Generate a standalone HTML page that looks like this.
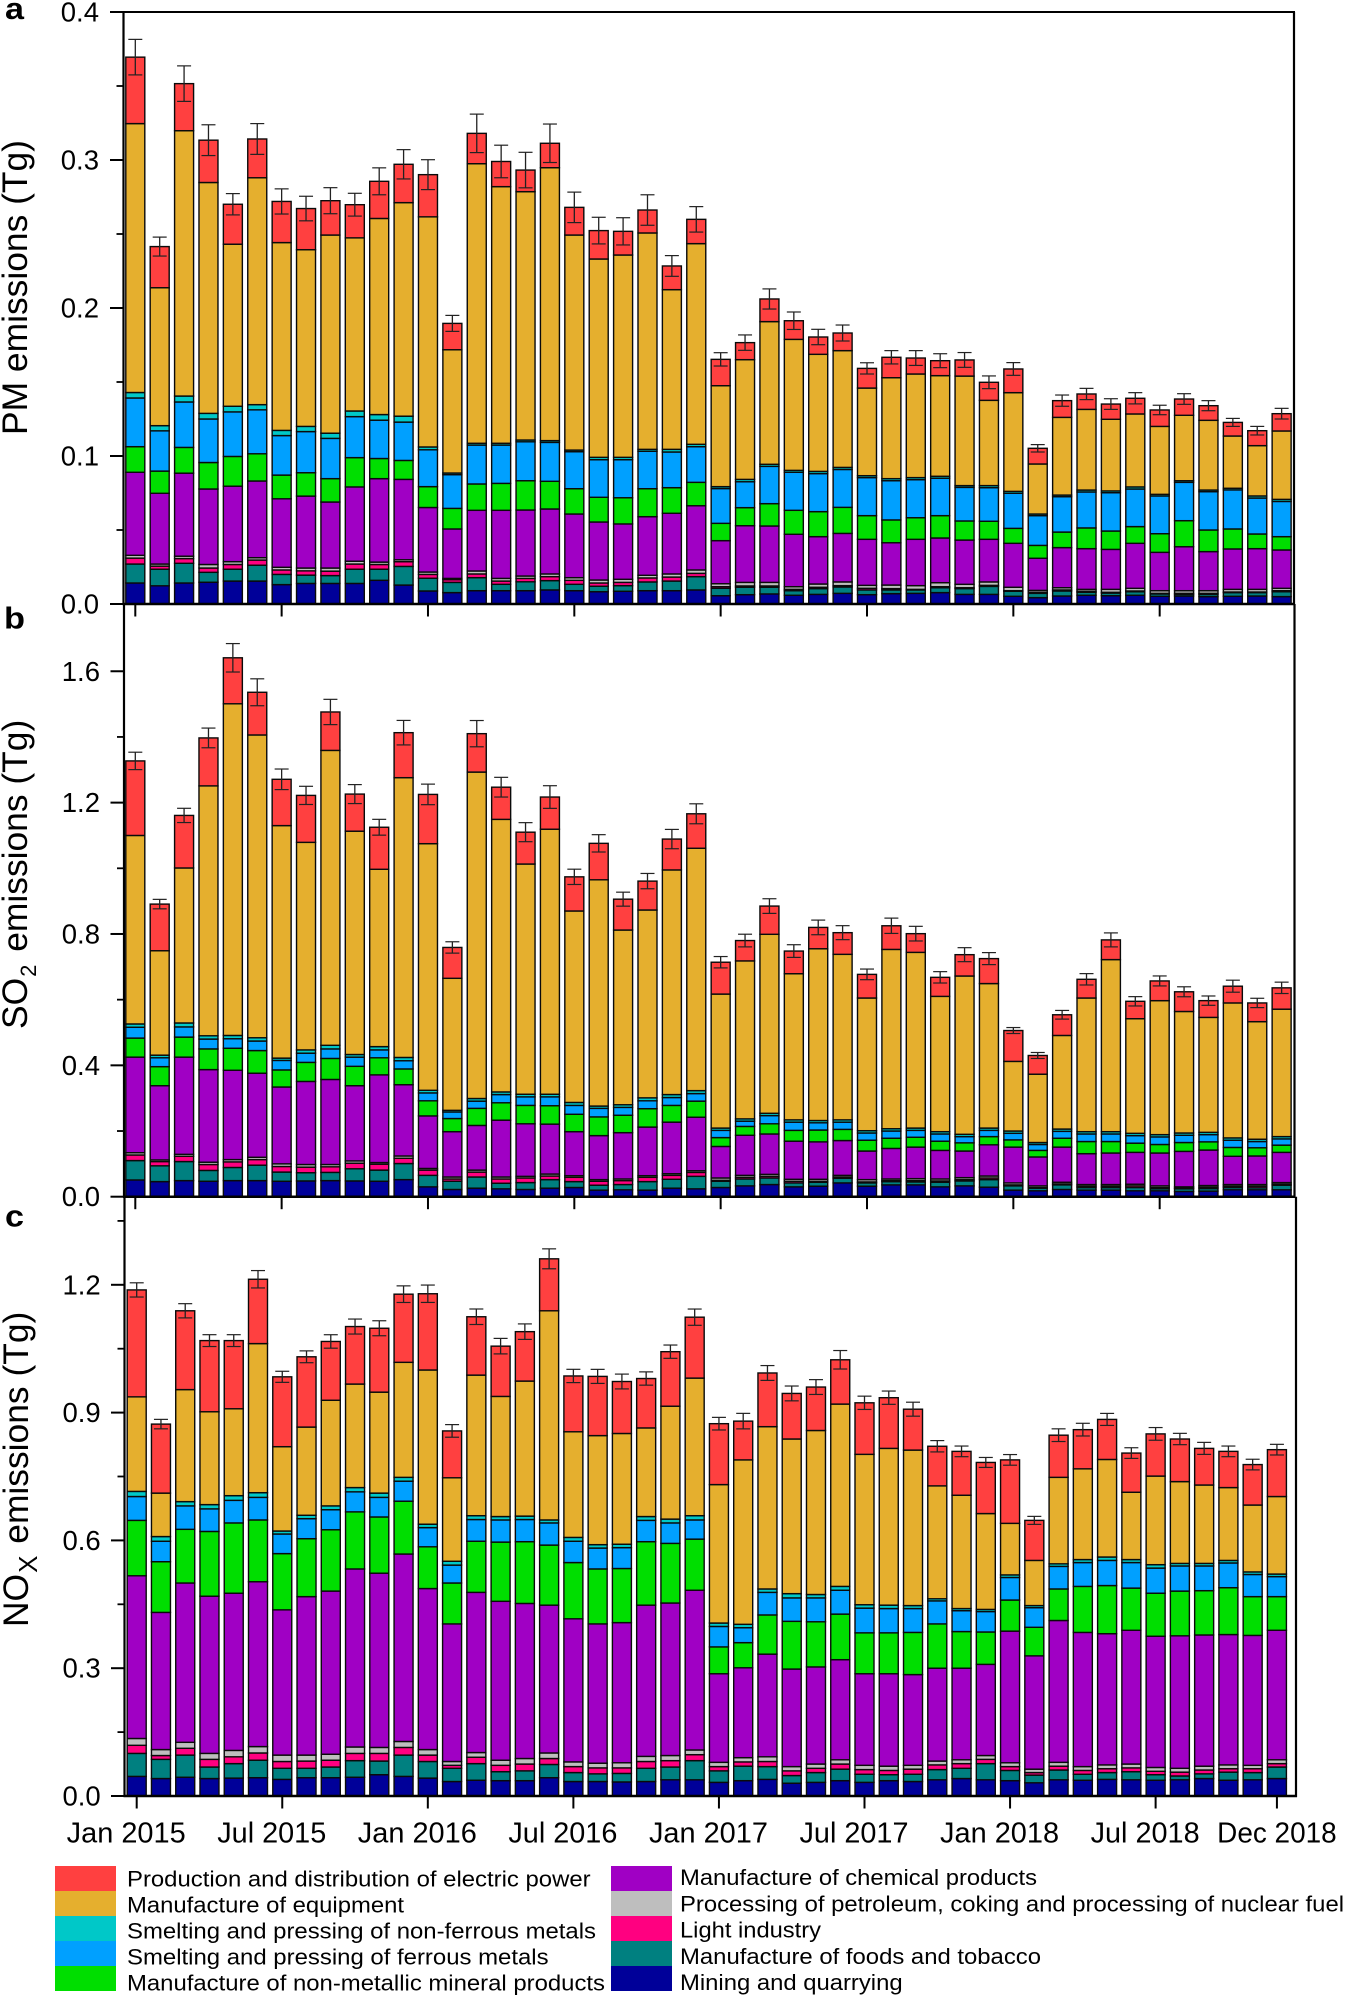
<!DOCTYPE html>
<html lang="en">
<head>
<meta charset="utf-8">
<title>Monthly PM, SO2 and NOx emissions by sector</title>
<style>
html,body{margin:0;padding:0;background:#fff;}
svg{display:block;font-family:"Liberation Sans",Arial,sans-serif;fill:#000;}
</style>
</head>
<body>
<svg id="chart" xmlns="http://www.w3.org/2000/svg" width="1345" height="1997" viewBox="0 0 1345 1997">
<rect x="0" y="0" width="1345" height="1997" fill="#fff"/>
<text x="5" y="19" font-size="31" font-weight="bold" textLength="19" lengthAdjust="spacingAndGlyphs">a</text>
<text x="4" y="628.5" font-size="31" font-weight="bold" textLength="21" lengthAdjust="spacingAndGlyphs">b</text>
<text x="5" y="1226.5" font-size="31" font-weight="bold" textLength="19" lengthAdjust="spacingAndGlyphs">c</text>
<text transform="translate(27,435) rotate(-90)" font-size="35.4">PM emissions (Tg)</text>
<text transform="translate(27,1029) rotate(-90)" font-size="35.4">SO<tspan font-size="22" dy="9" dx="1">2</tspan><tspan dy="-9" dx="3"> emissions (Tg)</tspan></text>
<text transform="translate(28,1627) rotate(-90)" font-size="35.4">NO<tspan font-size="26" dy="9" dx="1">X</tspan><tspan dy="-9" dx="2"> emissions (Tg)</tspan></text>

<g>
<g><rect x="55" y="1866" width="61" height="25" fill="#FF4040"/><text x="127" y="1886.7" font-size="22.5" textLength="463.6" lengthAdjust="spacingAndGlyphs">Production and distribution of electric power</text></g>
<g><rect x="55" y="1891" width="61" height="25" fill="#E5AF2E"/><text x="127" y="1912.7" font-size="22.5" textLength="277" lengthAdjust="spacingAndGlyphs">Manufacture of equipment</text></g>
<g><rect x="55" y="1916" width="61" height="25" fill="#00C8C8"/><text x="127" y="1938.7" font-size="22.5" textLength="469" lengthAdjust="spacingAndGlyphs">Smelting and pressing of non-ferrous metals</text></g>
<g><rect x="55" y="1941" width="61" height="25" fill="#00A0FF"/><text x="127" y="1964.7" font-size="22.5" textLength="421.6" lengthAdjust="spacingAndGlyphs">Smelting and pressing of ferrous metals</text></g>
<g><rect x="55" y="1966" width="61" height="25" fill="#00DE00"/><text x="127" y="1990.7" font-size="22.5" textLength="478" lengthAdjust="spacingAndGlyphs">Manufacture of non-metallic mineral products</text></g>
<g><rect x="611" y="1866" width="61" height="25" fill="#A000C4"/><text x="680" y="1885" font-size="22.5" textLength="357" lengthAdjust="spacingAndGlyphs">Manufacture of chemical products</text></g>
<g><rect x="611" y="1891" width="61" height="25" fill="#BEBEBE"/><text x="680" y="1911.7" font-size="22.5" textLength="664" lengthAdjust="spacingAndGlyphs">Processing of petroleum, coking and processing of nuclear fuel</text></g>
<g><rect x="611" y="1916" width="61" height="25" fill="#FF0080"/><text x="680" y="1937.7" font-size="22.5" textLength="141" lengthAdjust="spacingAndGlyphs">Light industry</text></g>
<g><rect x="611" y="1941" width="61" height="25" fill="#008080"/><text x="680" y="1964" font-size="22.5" textLength="361" lengthAdjust="spacingAndGlyphs">Manufacture of foods and tobacco</text></g>
<g><rect x="611" y="1966" width="61" height="25" fill="#000099"/><text x="680" y="1990" font-size="22.5" textLength="222.6" lengthAdjust="spacingAndGlyphs">Mining and quarrying</text></g>
</g>
</svg>
<script>
const months=['Jan 2015','Feb 2015','Mar 2015','Apr 2015','May 2015','Jun 2015','Jul 2015','Aug 2015','Sep 2015','Oct 2015','Nov 2015','Dec 2015','Jan 2016','Feb 2016','Mar 2016','Apr 2016','May 2016','Jun 2016','Jul 2016','Aug 2016','Sep 2016','Oct 2016','Nov 2016','Dec 2016','Jan 2017','Feb 2017','Mar 2017','Apr 2017','May 2017','Jun 2017','Jul 2017','Aug 2017','Sep 2017','Oct 2017','Nov 2017','Dec 2017','Jan 2018','Feb 2018','Mar 2018','Apr 2018','May 2018','Jun 2018','Jul 2018','Aug 2018','Sep 2018','Oct 2018','Nov 2018','Dec 2018'];
const xTickLabels=['Jan 2015','Jul 2015','Jan 2016','Jul 2016','Jan 2017','Jul 2017','Jan 2018','Jul 2018','Dec 2018'];

const pmNavy=[.0142,.0123,.0142,.0147,.0155,.0155,.0131,.0139,.0139,.0139,.016,.0128,.0088,.0077,.009,.009,.009,.0095,.009,.0083,.0086,.009,.009,.0095,.0056,.0063,.0068,.0059,.0065,.0072,.0063,.007,.0072,.0077,.0065,.0065,.0052,.0043,.0054,.0059,.0056,.0059,.0052,.0054,.005,.0052,.0054,.005];
const pmTeal=[.0128,.0112,.0133,.0067,.008,.0107,.0069,.0056,.0053,.0096,.0075,.0126,.0086,.0069,.0088,.0043,.006,.0063,.0043,.0037,.0038,.0059,.0065,.009,.005,.005,.0045,.0031,.0039,.0043,.0032,.0025,.0023,.0033,.0039,.0054,.0034,.0029,.0034,.002,.0018,.0024,.0016,.0011,.0015,.0025,.0023,.0033];
const pmPink=[.004,.0021,.0032,.0029,.0032,.0035,.003,.0029,.003,.0035,.0032,.0032,.0026,.0019,.0025,.0022,.0023,.0027,.0027,.0022,.0022,.0027,.0027,.0022,.0011,.0009,.0009,.0009,.0009,.0009,.0011,.0009,.0004,.0007,.0006,.0007,.0004,.0007,.0007,.0007,.0005,.0005,.0004,.0007,.0007,.0004,.0004,.0007];
const pmGrey=[.0019,.0014,.0016,.0024,.0019,.0016,.0018,.0019,.0021,.0019,.0016,.0013,.0016,.0008,.002,.0018,.0016,.0018,.0018,.002,.0021,.0018,.0021,.0023,.002,.0024,.0024,.0018,.0022,.0025,.002,.0024,.0025,.0027,.0023,.0023,.0023,.0013,.0015,.0013,.002,.0018,.0018,.0018,.0018,.0018,.0018,.0016];
const pmPurple=[.0561,.0478,.0561,.051,.051,.0518,.0463,.0486,.0446,.0502,.0564,.0543,.0436,.0334,.041,.046,.0446,.0439,.043,.0392,.0374,.0396,.041,.0434,.0291,.0383,.0381,.0354,.032,.0328,.0311,.0286,.0313,.0302,.0299,.0288,.0297,.0217,.0271,.0275,.027,.0304,.0259,.0297,.0264,.0273,.0275,.0259];
const pmGreen=[.0173,.015,.0174,.0179,.0201,.0184,.016,.0158,.0158,.0198,.0136,.0128,.0141,.0139,.0178,.0182,.0198,.0187,.0171,.0167,.0177,.0189,.0173,.0158,.0117,.0122,.0151,.0162,.0169,.0176,.016,.0154,.0146,.0151,.0129,.0122,.0101,.0087,.0105,.014,.0124,.0113,.0126,.0176,.0146,.0135,.0099,.009];
const pmBlue=[.0329,.0272,.0307,.0294,.0301,.0297,.0267,.0278,.0272,.0277,.0259,.0259,.0249,.0228,.0263,.0259,.0263,.0263,.025,.0254,.0257,.0253,.0241,.0241,.0235,.0175,.0252,.0257,.0257,.0256,.0257,.0265,.0257,.0253,.0227,.0227,.0237,.0201,.0239,.0243,.0259,.0254,.0255,.0259,.0259,.0264,.0243,.0238];
const pmCyan=[.0037,.0035,.004,.0038,.0038,.0035,.0035,.0035,.0035,.0038,.0038,.004,.0019,.0011,.0012,.0012,.0012,.0012,.0011,.0016,.0016,.0013,.0018,.0016,.0013,.0016,.0014,.0013,.0015,.0014,.0013,.0014,.0014,.0013,.0012,.0014,.0013,.0011,.0011,.0013,.0012,.0014,.0011,.0011,.0011,.0011,.0014,.0014];
const pmEquip=[.1817,.0932,.1793,.156,.1095,.1533,.1269,.1194,.1339,.117,.1325,.1443,.1555,.0833,.1889,.1734,.1678,.1844,.1453,.134,.1367,.1462,.1079,.1356,.0682,.0809,.0964,.0885,.0791,.0789,.0592,.0682,.07,.068,.074,.0576,.0667,.0338,.0525,.0545,.0484,.0493,.0459,.0442,.0471,.0353,.034,.0462];
const pmRed=[.0449,.0278,.0318,.0286,.027,.0262,.0278,.0278,.0232,.0224,.0251,.0259,.0285,.0178,.0205,.017,.0146,.0165,.0187,.0192,.016,.0155,.016,.0164,.0178,.0115,.0153,.0126,.0117,.0119,.0133,.0138,.0108,.0101,.0109,.0122,.016,.0106,.0113,.0104,.0103,.0106,.0111,.011,.0099,.0092,.0101,.0117];
const pmError=[.012,.0064,.012,.0104,.0072,.0104,.0085,.0083,.0088,.0077,.0091,.0099,.0101,.0054,.013,.011,.012,.013,.0103,.009,.0092,.0103,.007,.0086,.0045,.0052,.0068,.0059,.0052,.0054,.0038,.0045,.005,.0047,.005,.0043,.0043,.0025,.0038,.0038,.0036,.0038,.0032,.0036,.0034,.0027,.0029,.0036];
const pmTickLabels=['0.0','0.1','0.2','0.3','0.4'];
const pmMinorTicks=[.05,.15,.25,.35];

const so2Navy=[.051,.046,.049,.047,.049,.049,.047,.048,.049,.048,.047,.052,.030,.022,.026,.024,.022,.026,.028,.020,.021,.020,.026,.024,.028,.033,.037,.030,.032,.042,.032,.036,.036,.030,.033,.029,.020,.018,.022,.020,.020,.018,.018,.016,.017,.021,.021,.021];
const so2Teal=[.059,.048,.058,.033,.040,.047,.028,.025,.025,.037,.034,.049,.035,.025,.034,.017,.021,.026,.018,.015,.016,.026,.027,.038,.019,.021,.020,.012,.012,.014,.010,.010,.009,.014,.015,.023,.013,.008,.014,.008,.008,.010,.006,.008,.008,.007,.006,.014];
const so2Pink=[.017,.013,.016,.018,.017,.017,.017,.017,.017,.017,.018,.016,.016,.007,.015,.013,.014,.011,.013,.012,.012,.013,.012,.012,.003,.005,.005,.005,.003,.004,.003,.003,.004,.004,.004,.005,.003,.002,.003,.004,.004,.005,.004,.002,.004,.004,.005,.003];
const so2Grey=[.007,.005,.006,.007,.007,.007,.008,.008,.007,.007,.005,.007,.005,.006,.006,.006,.005,.006,.005,.005,.005,.005,.005,.005,.007,.006,.006,.006,.006,.005,.007,.005,.006,.006,.006,.006,.006,.005,.005,.005,.005,.005,.005,.004,.005,.005,.005,.005];
const so2Purple=[.291,.226,.296,.282,.272,.256,.234,.253,.259,.229,.267,.217,.160,.138,.136,.173,.160,.152,.134,.134,.141,.148,.157,.163,.096,.122,.123,.116,.114,.106,.087,.093,.096,.087,.081,.095,.109,.088,.107,.094,.096,.097,.100,.108,.108,.086,.087,.092];
const so2Green=[.058,.058,.061,.063,.067,.069,.052,.058,.064,.059,.052,.048,.046,.040,.052,.053,.056,.056,.053,.057,.053,.056,.051,.049,.027,.027,.031,.033,.036,.034,.033,.031,.030,.028,.025,.025,.022,.020,.027,.037,.035,.028,.026,.027,.025,.027,.025,.022];
const so2Blue=[.033,.027,.031,.030,.029,.029,.029,.028,.029,.028,.024,.025,.024,.020,.022,.025,.026,.027,.027,.026,.024,.024,.024,.023,.022,.016,.025,.025,.022,.022,.022,.022,.021,.022,.019,.019,.020,.018,.021,.023,.023,.023,.023,.022,.022,.022,.019,.019];
const so2Cyan=[.010,.008,.012,.010,.010,.010,.007,.010,.011,.008,.010,.010,.008,.005,.008,.008,.008,.008,.009,.007,.008,.009,.009,.009,.007,.007,.007,.007,.007,.007,.007,.007,.007,.007,.007,.007,.007,.006,.007,.007,.007,.007,.007,.007,.007,.007,.007,.007];
const so2Equip=[.574,.318,.472,.761,1.010,.922,.708,.632,.898,.680,.540,.852,.751,.402,.994,.830,.701,.807,.583,.689,.532,.572,.684,.738,.408,.481,.545,.445,.523,.504,.404,.546,.535,.412,.482,.440,.212,.208,.285,.407,.524,.349,.408,.370,.350,.411,.358,.388];
const so2Red=[.227,.142,.160,.146,.140,.130,.141,.143,.117,.113,.128,.137,.150,.094,.117,.098,.097,.098,.104,.111,.094,.088,.094,.105,.097,.062,.086,.069,.065,.066,.072,.072,.057,.058,.065,.076,.094,.057,.063,.057,.060,.053,.060,.060,.051,.051,.057,.065];
const so2Error=[.0265,.0144,.0217,.03,.0433,.041,.0313,.0277,.0385,.0289,.0241,.0373,.0313,.0173,.04,.03,.029,.0345,.0233,.0264,.0213,.0233,.0294,.0304,.0173,.0193,.0223,.0193,.0223,.0213,.0162,.0233,.0223,.0173,.0213,.0183,.0091,.0091,.0132,.0173,.0213,.0142,.0152,.0152,.0142,.0183,.0142,.0173];
const so2TickLabels=['0.0','0.4','0.8','1.2','1.6'];
const so2MinorTicks=[.2,.6,1.0,1.4];

const noxNavy=[.046,.041,.044,.041,.042,.043,.039,.043,.043,.044,.050,.046,.042,.034,.037,.036,.036,.043,.034,.034,.033,.034,.038,.038,.032,.036,.039,.030,.032,.036,.032,.036,.034,.038,.041,.038,.036,.031,.038,.037,.039,.038,.037,.038,.041,.037,.038,.041];
const noxTeal=[.054,.045,.052,.027,.034,.041,.026,.022,.025,.039,.032,.050,.039,.031,.039,.021,.023,.031,.021,.018,.020,.031,.030,.045,.027,.034,.030,.018,.023,.027,.019,.014,.017,.024,.024,.038,.024,.018,.023,.014,.016,.019,.013,.009,.011,.019,.017,.027];
const noxPink=[.019,.009,.016,.018,.016,.017,.016,.017,.016,.017,.018,.018,.015,.007,.015,.015,.016,.014,.014,.014,.013,.016,.015,.014,.010,.010,.012,.011,.010,.012,.011,.010,.012,.011,.011,.010,.009,.006,.009,.009,.009,.009,.008,.009,.009,.008,.009,.008];
const noxGrey=[.016,.014,.014,.014,.015,.015,.015,.014,.014,.015,.014,.014,.013,.009,.011,.012,.013,.013,.011,.011,.012,.012,.012,.011,.010,.010,.011,.010,.010,.010,.010,.010,.009,.009,.009,.009,.009,.008,.009,.009,.009,.009,.009,.009,.009,.009,.008,.009];
const noxPurple=[.382,.322,.374,.369,.369,.387,.341,.372,.383,.418,.409,.440,.378,.323,.376,.373,.364,.347,.336,.327,.329,.355,.358,.375,.208,.211,.241,.229,.228,.235,.215,.217,.213,.218,.215,.214,.309,.266,.333,.315,.308,.314,.308,.311,.308,.306,.305,.304];
const noxGreen=[.130,.119,.126,.152,.165,.145,.132,.136,.144,.134,.132,.124,.098,.096,.120,.139,.145,.141,.132,.129,.127,.149,.140,.120,.063,.059,.092,.112,.106,.107,.096,.096,.099,.104,.086,.076,.073,.067,.074,.108,.113,.099,.101,.105,.104,.110,.091,.079];
const noxBlue=[.056,.048,.055,.053,.053,.053,.046,.047,.047,.047,.046,.047,.045,.042,.051,.052,.052,.052,.050,.049,.049,.050,.048,.045,.048,.035,.053,.055,.056,.056,.058,.057,.056,.054,.049,.048,.053,.046,.053,.056,.059,.060,.059,.059,.058,.058,.052,.047];
const noxCyan=[.012,.011,.010,.010,.011,.011,.007,.008,.009,.010,.010,.009,.008,.009,.009,.008,.008,.007,.009,.008,.008,.009,.009,.010,.008,.008,.008,.010,.008,.009,.008,.008,.007,.005,.005,.005,.006,.005,.006,.007,.008,.007,.008,.006,.006,.006,.006,.006];
const noxEquip=[.222,.102,.263,.218,.204,.350,.198,.207,.248,.243,.237,.270,.362,.196,.330,.282,.317,.491,.248,.256,.260,.208,.265,.323,.325,.386,.381,.363,.385,.428,.353,.368,.365,.265,.266,.225,.121,.106,.203,.213,.229,.158,.208,.192,.184,.171,.157,.182];
const noxRed=[.251,.162,.185,.167,.160,.151,.164,.165,.138,.135,.150,.160,.179,.110,.137,.118,.116,.122,.131,.139,.122,.116,.128,.143,.143,.091,.126,.107,.102,.104,.121,.119,.096,.093,.103,.120,.149,.094,.099,.092,.094,.092,.099,.100,.086,.085,.095,.110];
const noxError=[.0167,.0111,.0167,.0139,.0139,.0204,.013,.0139,.0158,.0176,.0176,.0195,.0204,.0148,.0182,.0182,.0182,.0234,.0156,.0165,.0174,.0156,.0156,.0191,.0148,.0182,.0174,.0174,.0174,.0217,.0156,.0156,.0164,.0133,.0125,.0117,.0125,.0094,.0149,.0149,.0141,.0125,.0149,.0133,.0141,.0125,.0125,.0125];
const noxTickLabels=['0.0','0.3','0.6','0.9','1.2'];
const noxMinorTicks=[.15,.45,.75,1.05,1.35];

const seriesKeys=['mining','foods-tobacco','light-industry','petroleum','chemical','non-metallic','ferrous','non-ferrous','equipment','electric-power'];
const seriesColors=['#000099','#008080','#FF0080','#BEBEBE','#A000C4','#00DE00','#00A0FF','#00C8C8','#E5AF2E','#FF4040'];

const panels=[
 {id:'pm',values:[pmNavy,pmTeal,pmPink,pmGrey,pmPurple,pmGreen,pmBlue,pmCyan,pmEquip,pmRed],errors:pmError,tickLabels:pmTickLabels,minorTicks:pmMinorTicks,bottom:604,top:12,pxPerUnit:1480,firstX:135.3,stepX:24.39,left:123.5,right:1294,labelRight:99,topRule:true,lastTick:false,xLabels:false},
 {id:'so2',values:[so2Navy,so2Teal,so2Pink,so2Grey,so2Purple,so2Green,so2Blue,so2Cyan,so2Equip,so2Red],errors:so2Error,tickLabels:so2TickLabels,minorTicks:so2MinorTicks,bottom:1196.7,top:604,pxPerUnit:328.4,firstX:135.3,stepX:24.39,left:124,right:1294.5,labelRight:100,topRule:false,lastTick:false,xLabels:false},
 {id:'nox',values:[noxNavy,noxTeal,noxPink,noxGrey,noxPurple,noxGreen,noxBlue,noxCyan,noxEquip,noxRed],errors:noxError,tickLabels:noxTickLabels,minorTicks:noxMinorTicks,bottom:1796,top:1196.7,pxPerUnit:426,firstX:136.7,stepX:24.26,left:124.5,right:1296,labelRight:100.7,topRule:false,lastTick:true,xLabels:true}
];

const svgNS='http://www.w3.org/2000/svg';
const chart=document.getElementById('chart');
const barWidth=19;
const capWidth=14;

function make(tag,attrs,parent){
  const node=document.createElementNS(svgNS,tag);
  Object.keys(attrs).forEach(function(k){node.setAttribute(k,attrs[k]);});
  parent.appendChild(node);
  return node;
}

function drawPanel(p){
  const xScale=function(i){return p.firstX+p.stepX*i;};
  const yScale=function(v){return p.bottom-p.pxPerUnit*v;};

  const group=make('g',{},chart);
  
  

  months.forEach(function(month,i){
    const stack=make('g',{},group);
    
    
    let base=0;
    p.values.forEach(function(series,s){
      const v=series[i];
      const seg=make('rect',{x:xScale(i)-barWidth/2,y:yScale(base+v),width:barWidth,height:p.pxPerUnit*v,fill:seriesColors[s],stroke:'#0a0a0a','stroke-width':1.4},stack);
      
      
      base+=v;
    });
    const err=p.errors[i];
    const hi=yScale(base+err);
    const lo=yScale(base-err);
    const stem=make('line',{x1:xScale(i),x2:xScale(i),y1:hi,y2:lo,stroke:'#222','stroke-width':1.3},stack);
    
    
    const capHi=make('line',{x1:xScale(i)-capWidth/2,x2:xScale(i)+capWidth/2,y1:hi,y2:hi,stroke:'#222','stroke-width':1.2},stack);
    
    
    const capLo=make('line',{x1:xScale(i)-capWidth/2,x2:xScale(i)+capWidth/2,y1:lo,y2:lo,stroke:'#222','stroke-width':1.2},stack);
    
    
  });

  const leftAxis=make('line',{x1:p.left,x2:p.left,y1:p.top,y2:p.bottom+1,stroke:'#000','stroke-width':2.2},group);
  
  
  const rightAxis=make('line',{x1:p.right,x2:p.right,y1:p.top,y2:p.bottom+1,stroke:'#000','stroke-width':2.2},group);
  
  
  const bottomAxis=make('line',{x1:p.left-1,x2:p.right+1,y1:p.bottom,y2:p.bottom,stroke:'#000','stroke-width':2.5},group);
  
  
  if(p.topRule){
    const topRule=make('line',{x1:p.left,x2:p.right+1,y1:p.top,y2:p.top,stroke:'#000','stroke-width':2},group);
    
    
  }

  p.tickLabels.forEach(function(label){
    const y=yScale(parseFloat(label));
    const tick=make('line',{x1:p.left-13.5,x2:p.left,y1:y,y2:y,stroke:'#000','stroke-width':2},group);
    
    
    const text=make('text',{x:p.labelRight,y:y+9.5,'font-size':27.5,'text-anchor':'end'},group);
    text.textContent=label;
    
    
  });
  p.minorTicks.forEach(function(v){
    const y=yScale(v);
    const tick=make('line',{x1:p.left-7,x2:p.left,y1:y,y2:y,stroke:'#000','stroke-width':1.8},group);
    
    
  });

  xTickLabels.forEach(function(label){
    const i=months.indexOf(label);
    const last=i===months.length-1;
    if(last&&!p.lastTick){return;}
    const x=xScale(i);
    const tick=make('line',{x1:x,x2:x,y1:p.bottom,y2:p.bottom+12.5,stroke:'#000','stroke-width':2},group);
    
    
    if(p.xLabels){
      const text=make('text',{x:last?x:x-10.5,y:p.bottom+46.7,'font-size':28.5,'text-anchor':'middle',textLength:label.indexOf('Jul')===0?109:(label.indexOf('Dec')===0?119.5:119),lengthAdjust:'spacingAndGlyphs'},group);
      text.textContent=label;
      
      
    }
  });
}

panels.forEach(drawPanel);
</script>
</body>
</html>
